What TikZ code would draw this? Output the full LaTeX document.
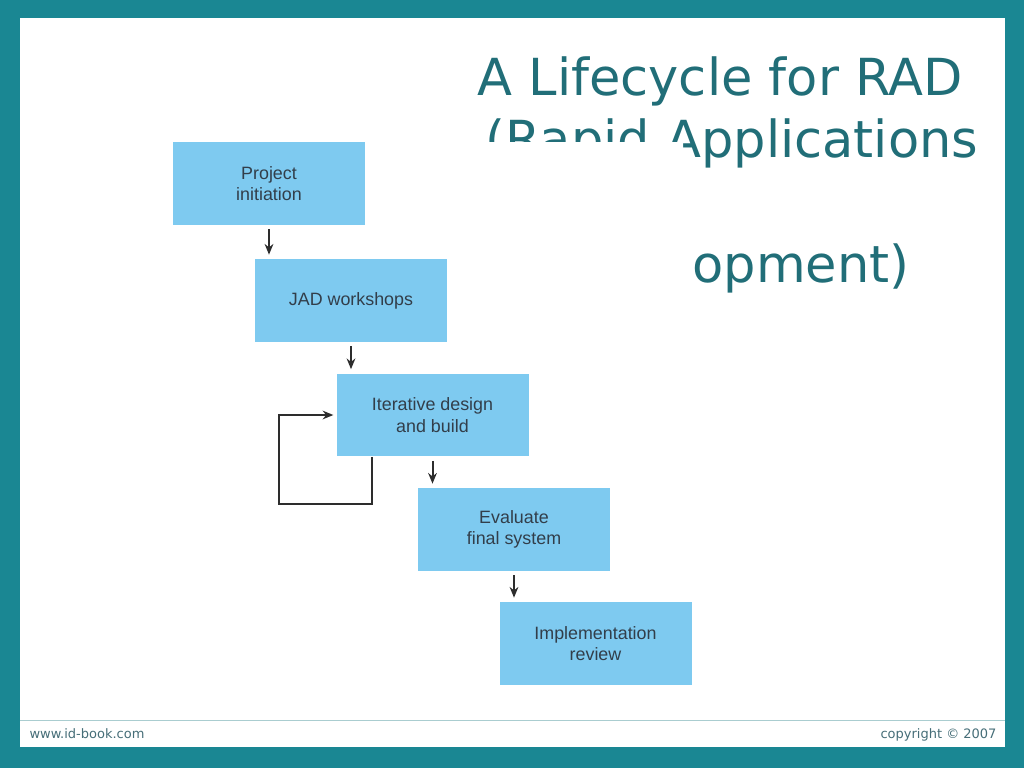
\documentclass[tikz,border=0pt]{standalone}
\usepackage{fontspec}
\setmainfont{Liberation Sans}
\newfontfamily\titlefont{DejaVu Sans}
\usetikzlibrary{arrows.meta}

\definecolor{slideteal}{RGB}{26,135,147}
\definecolor{titleteal}{RGB}{33,110,120}
\definecolor{boxblue}{RGB}{126,202,240}
\definecolor{boxtext}{RGB}{50,62,74}
\definecolor{footline}{RGB}{170,205,208}
\definecolor{foottext}{RGB}{70,110,120}

\tikzset{every picture/.style={line width=0.75pt}}
\tikzset{
  stagebox/.style={fill=boxblue, minimum width=144pt, minimum height=62pt, align=center, text=boxtext, font=\fontsize{13.4}{16}\selectfont, inner sep=0pt},
  flow/.style={draw={rgb,255:red,45;green,45;blue,45}, line width=1.5pt, -{Stealth[length=8pt,width=6.5pt]}},
}

\begin{document}
\begin{tikzpicture}[x=0.75pt,y=0.75pt,yscale=-1,xscale=1]
\useasboundingbox (0,0) rectangle (1024,768);

%Slide frame
\fill [slideteal] (0,0) rectangle (1024,768);
\fill [white] (20,18) rectangle (1005,747);
\draw [footline, line width=1.2pt] (20,720.5) -- (1005,720.5);

% Title
\node (title1) [anchor=base west, inner sep=0pt, text=titleteal, font=\titlefont\fontsize{38.3}{46}\selectfont] at (477,95) {A Lifecycle for RAD};
\node (title2) [anchor=base west, inner sep=0pt, text=titleteal, font=\titlefont\fontsize{38.3}{46}\selectfont] at (485,157) {(Rapid Applications};
\node (title3) [anchor=base east, inner sep=0pt, text=titleteal, font=\titlefont\fontsize{38.3}{46}\selectfont] at (910,282) {Development)};

%Figure background over the title
\fill [white] (150,142) -- (683,142) -- (683,200) -- (691,200) -- (691,300) -- (150,300) -- cycle;

% Stages
\node (init) [stagebox] at (269,183.5) {Project\\initiation};
\node (jad) [stagebox] at (351,300.5) {JAD workshops};
\node (iter) [stagebox] at (432.5,415) {Iterative design\\and build};
\node (eval) [stagebox] at (514,529.5) {Evaluate\\final system};
\node (impl) [stagebox] at (595.5,643.5) {Implementation\\review};

%Arrows
\draw [flow, shorten <=3pt, shorten >=3pt] (init.south) -- (init.south |- jad.north);
\draw [flow, shorten <=3pt, shorten >=3pt] (jad.south) -- (jad.south |- iter.north);
\draw [flow, shorten <=3pt, shorten >=3pt] (iter.south) -- (iter.south |- eval.north);
\draw [flow, shorten <=3pt, shorten >=3pt] (eval.south) -- (eval.south |- impl.north);

%Loop back
\coordinate (loopR) at (372,504);
\coordinate (loopL) at (279,504);
\draw [flow, shorten >=2pt] (iter.south -| loopR) -- (loopR) -- (loopL) |- (iter.west);

% Footer
\node (site) [anchor=base west, inner sep=0pt, text=foottext, font=\titlefont\fontsize{9.75}{12}\selectfont] at (29,738) {www.id-book.com};
\node (copy) [anchor=base east, inner sep=0pt, text=foottext, font=\titlefont\fontsize{9.75}{12}\selectfont] at (997,738) {copyright © 2007};

\end{tikzpicture}
\end{document}
